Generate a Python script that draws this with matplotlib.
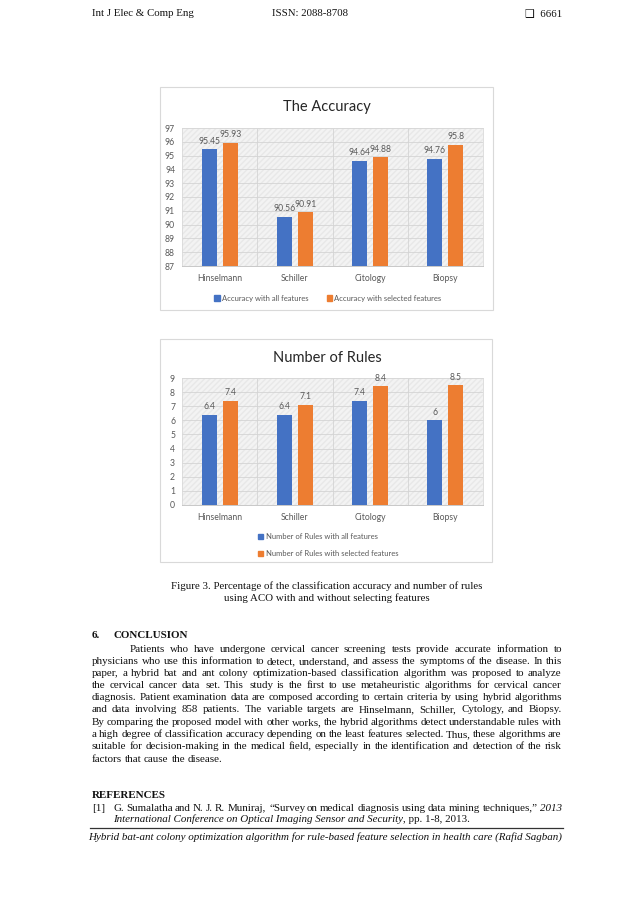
import matplotlib
matplotlib.use('Agg')
import matplotlib.pyplot as plt
from matplotlib.patches import Rectangle, Patch
from matplotlib.lines import Line2D
import numpy as np

# ---- data ----
categories = ['Hinselmann', 'Schiller', 'Citology', 'Biopsy']
acc_all = [95.45, 90.56, 94.64, 94.76]
acc_sel = [95.93, 90.91, 94.88, 95.8]
rules_all = [6.4, 6.4, 7.4, 6]
rules_sel = [7.4, 7.1, 8.4, 8.5]
acc_ticks = list(range(87, 98))
rule_ticks = list(range(0, 10))

caption = ['Figure 3. Percentage of the classification accuracy and number of rules',
           'using ACO with and without selecting features']
conclusion = [
    'Patients who have undergone cervical cancer screening tests provide accurate information to',
    'physicians who use this information to detect, understand, and assess the symptoms of the disease. In this',
    'paper, a hybrid bat and ant colony optimization-based classification algorithm was proposed to analyze',
    'the cervical cancer data set. This study is the first to use metaheuristic algorithms for cervical cancer',
    'diagnosis. Patient examination data are composed according to certain criteria by using hybrid algorithms',
    'and data involving 858 patients. The variable targets are Hinselmann, Schiller, Cytology, and Biopsy.',
    'By comparing the proposed model with other works, the hybrid algorithms detect understandable rules with',
    'a high degree of classification accuracy depending on the least features selected. Thus, these algorithms are',
    'suitable for decision-making in the medical field, especially in the identification and detection of the risk',
    'factors that cause the disease.',
]
footer = 'Hybrid bat-ant colony optimization algorithm for rule-based feature selection in health care (Rafid Sagban)'

BLUE = '#4472C4'
ORANGE = '#ED7D31'
GREY = '#595959'
CHART_FONT = 'Lato'
SERIF = ['Liberation Serif', 'DejaVu Serif']

W, H = 638, 902
fig = plt.figure(figsize=(W / 100, H / 100), dpi=100)
renderer = fig.canvas.get_renderer()


def fx(x):
    return x / W


def fy(y):
    return 1 - y / H


def box(x0, y0, x1, y1):
    fig.patches.append(Rectangle((fx(x0), fy(y1)), fx(x1) - fx(x0), fy(y0) - fy(y1),
                                 transform=fig.transFigure, fill=False,
                                 edgecolor='#d9d9d9', linewidth=0.8))


def bar_chart(rect, v1, v2, ticks, title, title_y, labels, leg_y, ncol):
    x0, y0, x1, y1 = rect
    ax = fig.add_axes([fx(x0), fy(y1), fx(x1) - fx(x0), fy(y0) - fy(y1)])
    ax.set_facecolor('#f3f3f3')
    ax.add_patch(Rectangle((0, 0), 1, 1, transform=ax.transAxes, fill=False,
                           hatch='//////', edgecolor='#e8e8e8', linewidth=0, zorder=0))
    x = np.arange(len(categories))
    base = ticks[0]
    b1 = ax.bar(x - 0.14, np.array(v1) - base, 0.2, bottom=base, color=BLUE, zorder=3)
    b2 = ax.bar(x + 0.14, np.array(v2) - base, 0.2, bottom=base, color=ORANGE, zorder=3)
    for bars, vals in ((b1, v1), (b2, v2)):
        for b, v in zip(bars, vals):
            ax.annotate('{:g}'.format(v), (b.get_x() + b.get_width() / 2, v),
                        xytext=(0, 2.5), textcoords='offset points', ha='center', va='bottom',
                        fontsize=6.2, color=GREY, family=CHART_FONT)
    ax.set_ylim(ticks[0], ticks[-1])
    ax.set_xlim(-0.5, len(categories) - 0.5)
    ax.set_yticks(ticks)
    ax.set_xticks(x)
    ax.set_xticklabels(categories)
    ax.tick_params(length=0, labelsize=6.2, labelcolor=GREY)
    ax.tick_params(axis='x', pad=6)
    ax.tick_params(axis='y', pad=5)
    for lab in ax.get_xticklabels() + ax.get_yticklabels():
        lab.set_family(CHART_FONT)
    ax.grid(axis='y', color='#d4d4d4', linewidth=0.6, zorder=1)
    for xv in x[:-1] + 0.5:
        ax.axvline(xv, color='#d4d4d4', linewidth=0.6, zorder=1)
    for s in ax.spines.values():
        s.set_color('#d9d9d9')
        s.set_linewidth(0.6)
    ax.spines['bottom'].set_color('#bfbfbf')
    fig.text(fx(327), fy(title_y), title, ha='center', va='center', fontsize=10.5,
             color='#262626', family=CHART_FONT)
    handles = [Patch(color=BLUE, label=labels[0]), Patch(color=ORANGE, label=labels[1])]
    leg = fig.legend(handles=handles, loc='center', bbox_to_anchor=(fx(328), fy(leg_y)),
                     ncol=ncol, frameon=False, handlelength=0.7, handleheight=0.7,
                     handletextpad=0.3, columnspacing=2.4, labelspacing=1.3,
                     prop={'family': CHART_FONT, 'size': 5.5})
    for t in leg.get_texts():
        t.set_color(GREY)
    return ax


# ---- the two charts ----
box(160, 87, 493, 310)
bar_chart((182, 128, 483, 266), acc_all, acc_sel, acc_ticks, 'The Accuracy', 107,
          ['Accuracy with all features', 'Accuracy with selected features'], 298, 2)

box(160, 339, 492, 562)
bar_chart((182, 378, 483, 505), rules_all, rules_sel, rule_ticks, 'Number of Rules', 358,
          ['Number of Rules with all features', 'Number of Rules with selected features'], 545, 1)


# ---- page text ----
BODY = 7.95
LEFT, RIGHT = 92, 562


def put_line(tokens, x0, x1, y, justify=True, size=BODY, weight='normal'):
    # one text per word, spread so the line fills x0..x1
    y = round(y)
    objs = []
    for word, style in tokens:
        objs.append(fig.text(x0, H - y, word, fontsize=size, family=SERIF, transform=None,
                             fontstyle=style, fontweight=weight, va='baseline', color='#111111'))
    widths = [t.get_window_extent(renderer).width for t in objs]
    probe = fig.text(0, 0, 'a a', fontsize=size, family=SERIF)
    probe2 = fig.text(0, 0, 'aa', fontsize=size, family=SERIF)
    space = probe.get_window_extent(renderer).width - probe2.get_window_extent(renderer).width
    probe.remove()
    probe2.remove()
    gap = space
    if justify and len(objs) > 1:
        gap = (x1 - x0 - sum(widths)) / (len(objs) - 1)
    xp = x0
    for t, w in zip(objs, widths):
        t.set_x(round(xp))
        xp += w + gap
    return xp


def txt(x, y, s, **kw):
    base = dict(fontsize=BODY, family=SERIF, va='baseline', color='#111111')
    base.update(kw)
    return fig.text(fx(x), fy(y), s, **base)


# header
txt(LEFT, 16, 'Int J Elec & Comp Eng', fontsize=7.8)
txt(272, 16, 'ISSN: 2088-8708', fontsize=7.8)
txt(RIGHT, 16, '\u2751  6661', fontsize=7.8, ha='right', family=['Liberation Serif', 'DejaVu Sans'])

# caption
txt(327, 589, caption[0], ha='center', fontsize=7.8)
txt(327, 601, caption[1], ha='center', fontsize=7.8)

# conclusion
txt(LEFT, 638.5, '6.', fontweight='bold')
txt(114, 638.5, 'CONCLUSION', fontweight='bold')
line_y = [652.5, 664.5, 676.5, 688.5, 700.5, 712.5, 724.8, 737, 749.2, 761.5]
for i, (line, y) in enumerate(zip(conclusion, line_y)):
    x_start = 130 if i == 0 else LEFT
    put_line([(w, 'normal') for w in line.split()], x_start, RIGHT, y,
             justify=(i < len(conclusion) - 1))

# references
txt(LEFT, 798.5, 'REFERENCES', fontweight='bold')
txt(LEFT, 811, '[1]')
ref1 = 'G. Sumalatha and N. J. R. Muniraj, \u201cSurvey on medical diagnosis using data mining techniques,\u201d'
put_line([(w, 'normal') for w in ref1.split()] + [('2013', 'italic')], 113, RIGHT, 811)
it = txt(113, 822, 'International Conference on Optical Imaging Sensor and Security', fontstyle='italic')
ex = it.get_window_extent(renderer)
txt(ex.x1, 822, ', pp. 1-8, 2013.')

fig.add_artist(Line2D([fx(90), fx(563)], [fy(828), fy(828)], color='#333333', linewidth=0.9))
txt(RIGHT, 839.5, footer, ha='right', fontstyle='italic', fontsize=7.9)

fig.savefig('out.png', dpi=100)
